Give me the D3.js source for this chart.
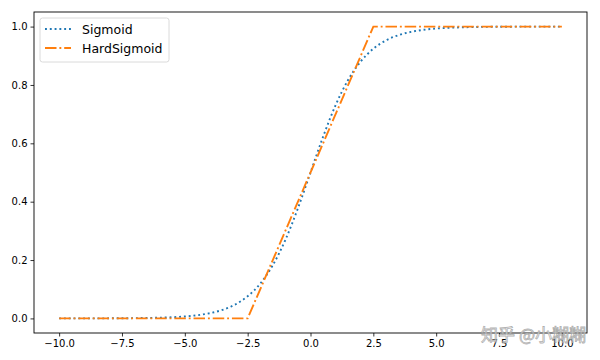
<!DOCTYPE html>
<html>
<head>
<meta charset="utf-8">
<script src="https://cdn.jsdelivr.net/npm/d3@7"></script>
<style>
	body { margin: 0; background: #fff; }
	svg { display: block; font-family: "DejaVu Sans", sans-serif; }
</style>
</head>
<body>
<svg id="plot" width="600" height="360"></svg>
<script>

// values
const SIG_X = [-10, -9.5, -9, -8.5, -8, -7.5, -7, -6.5, -6, -5.5, -5, -4.5, -4, -3.5, -3, -2.5, -2, -1.5, -1, -0.5,
	0, 0.5, 1, 1.5, 2, 2.5, 3, 3.5, 4, 4.5, 5, 5.5, 6, 6.5, 7, 7.5, 8, 8.5, 9, 9.5, 10];
const SIG_Y = [0.0000, 0.0001, 0.0001, 0.0002, 0.0003, 0.0006, 0.0009, 0.0015, 0.0025, 0.0041, 0.0067, 0.0110, 0.0180,
	0.0293, 0.0474, 0.0759, 0.1192, 0.1824, 0.2689, 0.3775, 0.5, 0.6225, 0.7311, 0.8176, 0.8808, 0.9241, 0.9526,
	0.9707, 0.9820, 0.9890, 0.9933, 0.9959, 0.9975, 0.9985, 0.9991, 0.9994, 0.9997, 0.9998, 0.9999, 0.9999, 1.0000];
const HARD_X = [-10, -2.5, 2.5, 10];
const HARD_Y = [0, 0, 1, 1];
const X_TICKS = [-10, -7.5, -5, -2.5, 0, 2.5, 5, 7.5, 10];
const Y_TICKS = [0, 0.2, 0.4, 0.6, 0.8, 1.0];
const SERIES_NAMES = ['Sigmoid', 'HardSigmoid'];

const MARGIN = { top: 12, right: 13, bottom: 27, left: 34 };
const W = 600, H = 360;

const svg = d3.select('#plot');

let x = d3.scaleLinear().domain([-11, 11]).range([MARGIN.left, W - MARGIN.right]);
let y = d3.scaleLinear().domain([-0.05, 1.05]).range([H - MARGIN.bottom, MARGIN.top]);

let line = d3.line().x(d => x(d[0])).y(d => y(d[1]));

let sig = SIG_X.map((v, i) => [v, SIG_Y[i]]);
let hard = HARD_X.map((v, i) => [v, HARD_Y[i]]);

svg.append('path')
	.datum(sig)
	.attr('d', line.curve(d3.curveMonotoneX))
	.attr('fill', 'none')
	.attr('stroke', '#1f77b4')
	.attr('stroke-width', 1.9)
	.attr('stroke-dasharray', '1.9,2.9');

svg.append('path')
	.datum(hard)
	.attr('d', d3.line().x(d => x(d[0])).y(d => y(d[1])))
	.attr('fill', 'none')
	.attr('stroke', '#ff7f0e')
	.attr('stroke-width', 1.9)
	.attr('stroke-dasharray', '11.5,2.9,1.9,2.9');

// axes
let xAxis = d3.axisBottom(x).tickValues(X_TICKS).tickFormat(d3.format('.1f')).tickSize(3.5).tickPadding(3);
let yAxis = d3.axisLeft(y).tickValues(Y_TICKS).tickFormat(d3.format('.1f')).tickSize(3.5).tickPadding(3);

let gx = svg.append('g').attr('transform', `translate(0,${H - MARGIN.bottom})`).call(xAxis);
let gy = svg.append('g').attr('transform', `translate(${MARGIN.left},0)`).call(yAxis);
[gx, gy].forEach(g => {
	g.select('.domain').remove();
	g.selectAll('text').attr('font-size', 10).attr('fill', '#000')
		.attr('font-family', '"DejaVu Sans", sans-serif');
	g.selectAll('line').attr('stroke', '#000').attr('stroke-width', 0.8);
});
gx.selectAll('text').text(d => d3.format('.1f')(d).replace('-', '\u2212'));

svg.append('rect')
	.attr('x', MARGIN.left)
	.attr('y', MARGIN.top)
	.attr('width', W - MARGIN.left - MARGIN.right)
	.attr('height', H - MARGIN.top - MARGIN.bottom)
	.attr('fill', 'none')
	.attr('stroke', '#000')
	.attr('stroke-width', 0.9);

// legend
let leg = svg.append('g').attr('transform', 'translate(40,18)');
leg.append('rect')
	.attr('width', 129).attr('height', 44).attr('rx', 2.5)
	.attr('fill', '#fff').attr('fill-opacity', 0.8)
	.attr('stroke', '#d0d0d0').attr('stroke-width', 0.8);
let styles = [
	{ c: '#1f77b4', dash: '1.9,2.9' },
	{ c: '#ff7f0e', dash: '11.5,2.9,1.9,2.9' }
];
SERIES_NAMES.forEach((name, i) => {
	let yy = 11 + i * 19;
	leg.append('line')
		.attr('x1', 5).attr('x2', 31).attr('y1', yy).attr('y2', yy)
		.attr('stroke', styles[i].c).attr('stroke-width', 1.9)
		.attr('stroke-dasharray', styles[i].dash);
	leg.append('text')
		.attr('x', 42).attr('y', yy).attr('dy', '0.36em')
		.attr('font-size', 12.5)
		.text(name);
});

// watermark
svg.append('text')
	.attr('x', 586).attr('y', 341)
	.attr('text-anchor', 'end')
	.attr('font-family', '"Noto Sans CJK SC", sans-serif')
	.attr('font-size', 17)
	.attr('fill', '#fff').attr('fill-opacity', 0.7)
	.attr('stroke', '#9a9a9a').attr('stroke-width', 0.8).attr('stroke-opacity', 0.8)
	.text('知乎 @小糊糊');
</script>
</body>
</html>
